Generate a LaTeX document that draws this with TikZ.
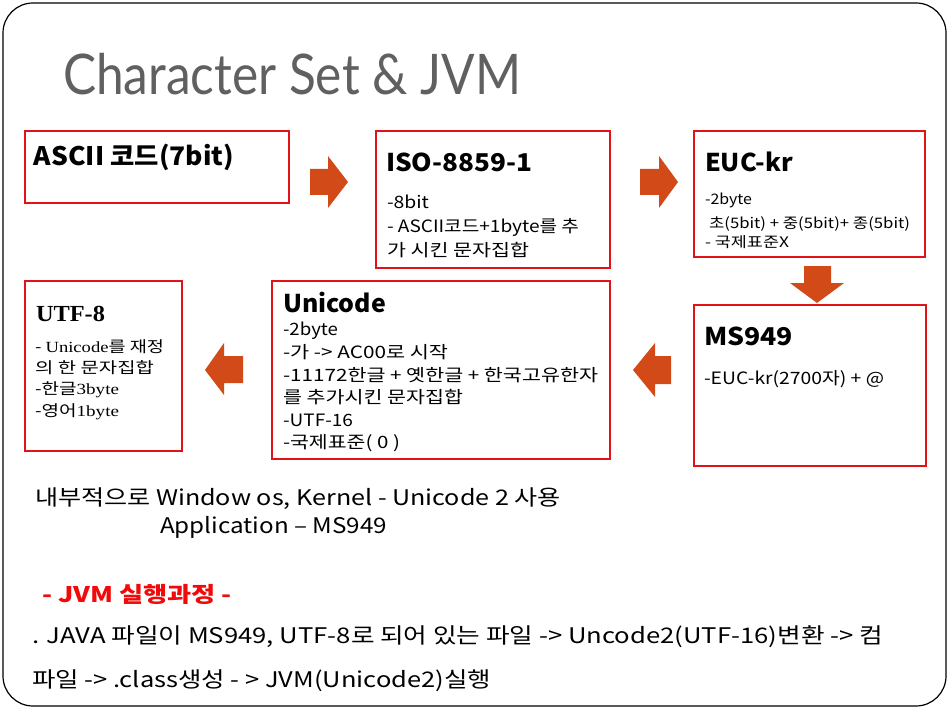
\documentclass[tikz,border=0pt]{standalone}
\usepackage{fontspec}
\usepackage{graphicx}
\setmainfont{Noto Sans CJK KR}
\newfontfamily\titlefont{Lato}
\newfontfamily\serifr{Liberation Serif}
\definecolor{boxred}{RGB}{226,18,24}
\definecolor{arrowc}{RGB}{209,74,24}
\definecolor{titlegray}{RGB}{96,96,96}
\definecolor{jvmred}{RGB}{240,10,10}
\newcommand\fx[2]{\resizebox{#1pt}{\height}{#2}}
\begin{document}
\begin{tikzpicture}[x=1pt,y=-1pt,
  redbox/.style={draw=boxred, line width=2.2pt, anchor=north west, inner sep=0pt, outer sep=0pt},
  txt/.style={anchor=base west, inner sep=0pt, outer sep=0pt},
  ttl/.style={txt, font=\fontsize{24.5}{28}\selectfont\bfseries},
  body/.style={txt, font=\fontsize{17}{20}\selectfont},
  small/.style={txt, font=\fontsize{14.5}{17}\selectfont},
  utfb/.style={txt, font=\fontsize{15.5}{18}\selectfont},
  big/.style={txt, font=\fontsize{21.5}{25}\selectfont},
  blockarrow/.style={fill=arrowc}]
\useasboundingbox (0,0) rectangle (952,711);
\fill[white] (0,0) rectangle (952,711);
\draw[line width=1.2pt, rounded corners=30pt] (3,3) rectangle (946,706);

% title
\node[txt, font=\titlefont\fontsize{56}{60}\selectfont, text=titlegray] (title) at (63,95) {\fx{458}{Character Set \& JVM}};

% boxes
\node[redbox, minimum width=264pt, minimum height=72pt] (ascii) at (25,131) {};
\node[redbox, minimum width=234pt, minimum height=137pt] (iso) at (376,131) {};
\node[redbox, minimum width=231pt, minimum height=126pt] (euc) at (694,131) {};
\node[redbox, minimum width=232pt, minimum height=161pt] (ms) at (694,305) {};
\node[redbox, minimum width=338pt, minimum height=178pt] (uni) at (272,281) {};
\node[redbox, minimum width=157pt, minimum height=170pt] (utf) at (25,281) {};

% ASCII
\node[txt, font=\fontsize{25.5}{29}\selectfont\bfseries] (asciit) at (34,166) {\fx{200}{ASCII 코드(7bit)}};

% ISO
\node[ttl] (isot) at (386,172) {\fx{146}{ISO-8859-1}};
\node[body] (iso1) at (387,208) {\fx{42}{-8bit}};
\node[body] (iso2) at (387,233) {\fx{192}{- ASCII코드+1byte를 추}};
\node[body] (iso3) at (387,256) {\fx{142}{가 시킨 문자집합}};

% EUC
\node[ttl] (euct) at (705,172) {\fx{88}{EUC-kr}};
\node[small] (euc1) at (705,205) {\fx{47}{-2byte}};
\node[small] (euc2) at (709,229) {\fx{201}{초(5bit) + 중(5bit)+ 종(5bit)}};
\node[small] (euc3) at (705,248) {\fx{84}{- 국제표준X}};

% MS949
\node[ttl] (mst) at (704,345) {\fx{89}{MS949}};
\node[body] (ms1) at (704,384) {\fx{180}{-EUC-kr(2700자) + @}};

% Unicode
\node[ttl] (unit) at (283,312) {\fx{103}{Unicode}};
\node[body] (uni1) at (283,335) {\fx{55}{-2byte}};
\node[body] (uni2) at (283,358) {\fx{165}{-가 -> AC00로 시작}};
\node[body] (uni3) at (283,381) {\fx{315}{-11172한글 + 옛한글 + 한국고유한자}};
\node[body] (uni4) at (283,403) {\fx{180}{를 추가시킨 문자집합}};
\node[body] (uni5) at (283,426) {\fx{70}{-UTF-16}};
\node[body] (uni6) at (283,448) {\fx{117}{-국제표준( 0 )}};

% UTF-8
\node[txt, font=\serifr\fontsize{23}{27}\selectfont\bfseries] (utft) at (36,321) {\fx{69}{UTF-8}};
\node[utfb] (utf1) at (35,352) {\fx{129}{- {\serifr Unicode}를 재정}};
\node[utfb] (utf2) at (35,373) {\fx{119}{의 한 문자집합}};
\node[utfb] (utf3) at (35,394) {\fx{84}{-한글{\serifr 3byte}}};
\node[utfb] (utf4) at (35,416) {\fx{84}{-영어{\serifr 1byte}}};

% block arrows
\fill[blockarrow] (310,169) -- (328,169) -- (328,156) -- (348,182) -- (328,208) -- (328,195) -- (310,195) -- cycle;
\fill[blockarrow] (640,169) -- (659,169) -- (659,156) -- (678,182) -- (659,208) -- (659,195) -- (640,195) -- cycle;
\fill[blockarrow] (804,266) -- (831,266) -- (831,283) -- (844,283) -- (817,303) -- (790,283) -- (804,283) -- cycle;
\fill[blockarrow] (671,356) -- (655,356) -- (655,343) -- (633,370) -- (655,397) -- (655,384) -- (671,384) -- cycle;
\fill[blockarrow] (243,356) -- (224,356) -- (224,343) -- (205,370) -- (224,395) -- (224,383) -- (243,383) -- cycle;

% bottom text
\node[big] (b1) at (35,505) {\fx{526}{내부적으로 Window os, Kernel - Unicode 2 사용}};
\node[big] (b2) at (160,533) {\fx{227}{Application – MS949}};
\node[big, font=\fontsize{21.5}{25}\selectfont\bfseries, text=jvmred] (b3) at (42,602) {\fx{190}{- JVM 실행과정 -}};
\node[big] (b4) at (32,643) {\fx{851}{. JAVA 파일이 MS949, UTF-8로 되어 있는 파일 -> Uncode2(UTF-16)변환 -> 컴}};
\node[big] (b5) at (32,687) {\fx{459}{파일 -> .class생성 - > JVM(Unicode2)실행}};
\end{tikzpicture}
\end{document}
